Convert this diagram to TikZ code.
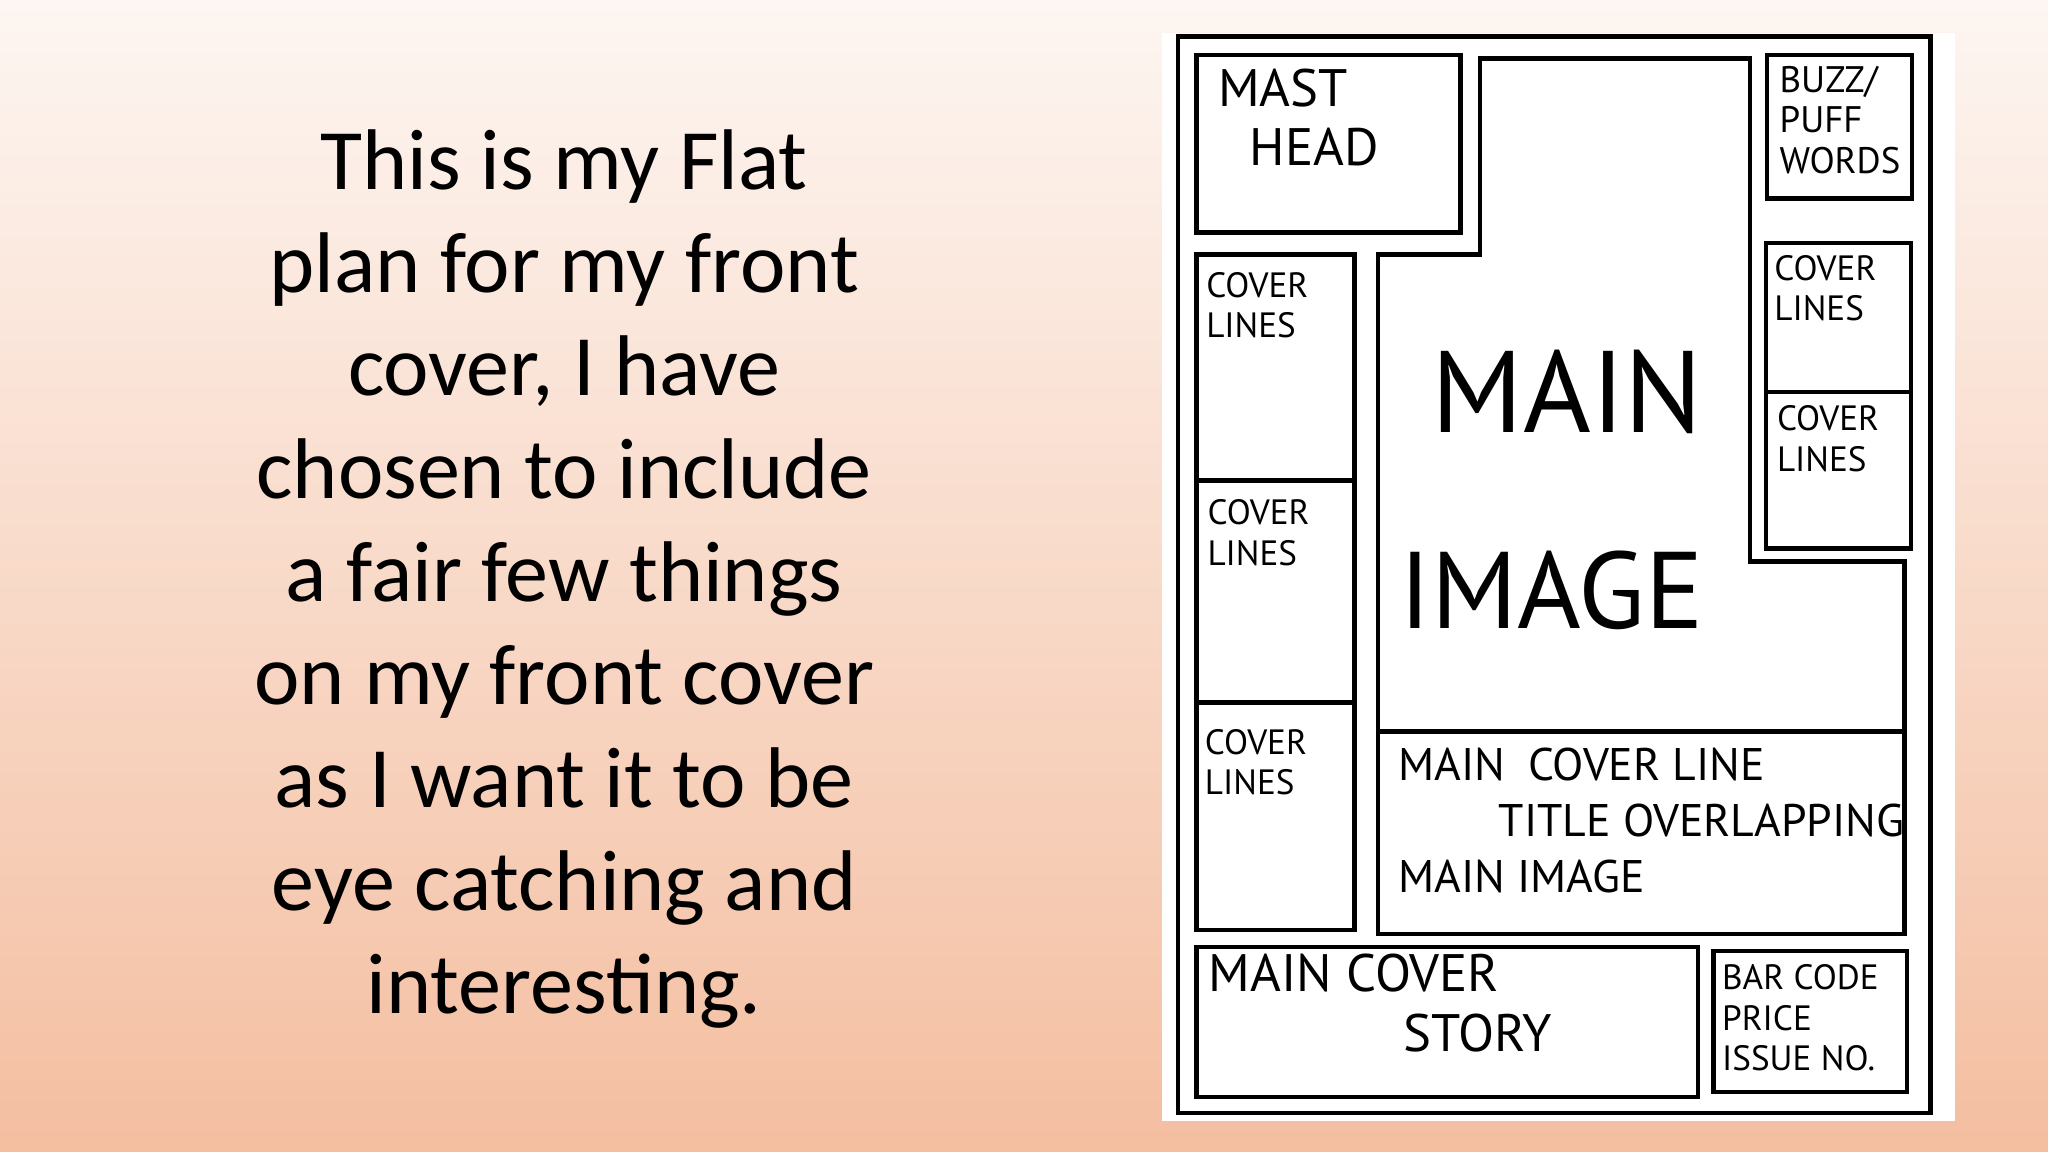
\documentclass[tikz,border=0pt]{standalone}
\usepackage{fontspec}
\setmainfont{Carlito}
\newfontfamily\hand{PT Sans}
\definecolor{peach}{RGB}{244,190,160}
\definecolor{paleback}{RGB}{253,246,242}
\begin{document}
\begin{tikzpicture}[x=0.013061cm,y=-0.013061cm,
    box/.style={draw=black, line width=1.3pt},
    lbl/.style={font=\hand\fontsize{10}{11.5}\selectfont, align=left, anchor=north west, inner sep=0pt}]
        % background
        \shade [top color=paleback, bottom color=peach] (0,0) rectangle (1568,882);
        \useasboundingbox (0,0) rectangle (1568,882);
        \fill [white] (890,25) rectangle (1497,858);
        % paragraph
        \node (para) [align=center, font=\fontsize{24.5}{29.3}\selectfont] at (432,443)
            {This is my Flat\\plan for my front\\cover, I have\\chosen to include\\a fair few things\\on my front cover\\as I want it to be\\eye catching and\\interesting.};
        % frame
        \draw [box] (902,28) rectangle (1478,852);
        \draw [box] (916,42) rectangle (1118,178);
        \draw [box] (1133,45) -- (1340,45) -- (1340,430) -- (1458,430) -- (1458,560)
              -- (1055,560) -- (1055,195) -- (1133,195) -- cycle;
        \draw [box] (1353,42) rectangle (1464,152);
        \draw [box] (1352,186) rectangle (1463,300);
        \draw [box] (1352,300) rectangle (1463,420);
        \draw [box] (916,195) rectangle (1037,368);
        \draw [box] (916,368) rectangle (1037,538);
        \draw [box] (916,538) rectangle (1037,712);
        \draw [box] (1055,560) rectangle (1458,715);
        \draw [box] (916,725) rectangle (1300,840);
        \draw [box] (1312,728) rectangle (1460,836);
        % labels
        \node (mast) [lbl, font=\hand\fontsize{15}{17}\selectfont] at (932,52) {MAST\\\hspace*{0.6em}HEAD};
        \node (buzz) [lbl, font=\hand\fontsize{10.5}{11.5}\selectfont] at (1362,50) {BUZZ/\\PUFF\\WORDS};
        \node (cr1) [lbl] at (1358,195) {COVER\\LINES};
        \node (cr2) [lbl] at (1360,310) {COVER\\LINES};
        \node (cl1) [lbl] at (923,208) {COVER\\LINES};
        \node (cl2) [lbl] at (924,382) {COVER\\LINES};
        \node (cl3) [lbl] at (922,558) {COVER\\LINES};
        \node (main) [font=\hand\fontsize{33}{35}\selectfont, inner sep=0pt] at (1200,300) {MAIN};
        \node (image) [font=\hand\fontsize{31}{33}\selectfont, inner sep=0pt] at (1188,452) {IMAGE};
        \node (mcl) [lbl, font=\hand\fontsize{13}{16}\selectfont] at (1070,572)
            {MAIN\enspace COVER LINE\\\hspace*{2.2em}TITLE OVERLAPPING\\MAIN IMAGE};
        \node (story) [lbl, font=\hand\fontsize{15}{17}\selectfont] at (925,730) {MAIN COVER\\\hspace*{3.7em}STORY};
        \node (bar) [lbl, font=\hand\fontsize{10}{11.5}\selectfont] at (1318,738) {BAR CODE\\PRICE\\ISSUE NO.};
\end{tikzpicture}
\end{document}
